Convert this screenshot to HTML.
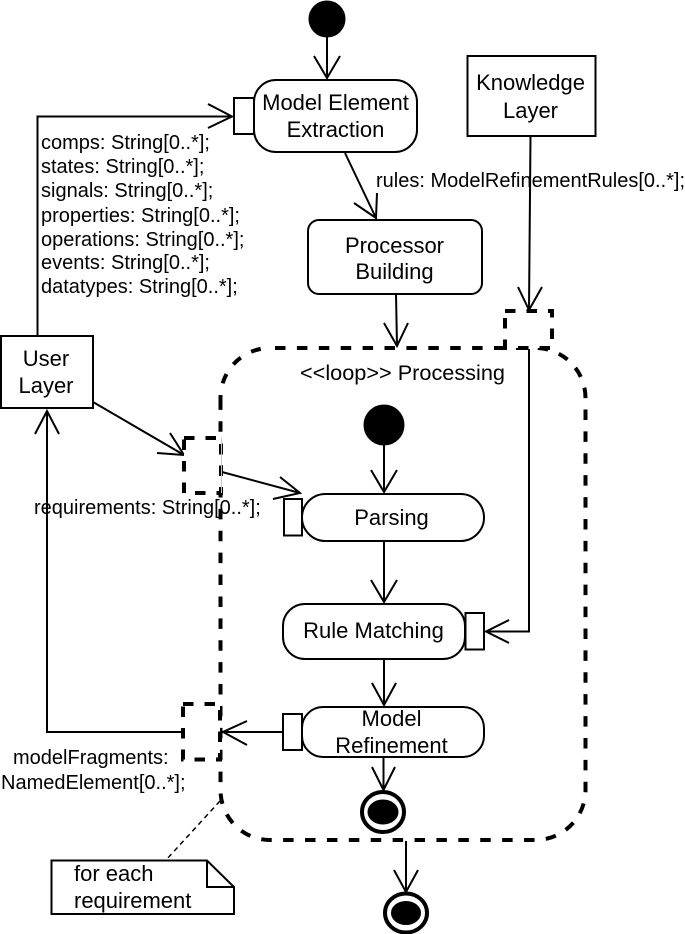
<!DOCTYPE html>
<html><head><meta charset="utf-8"><style>
html,body{margin:0;padding:0;background:#fff}
svg{display:block}
text{font-family:"Liberation Sans",sans-serif;fill:#000}
</style></head><body>
<svg width="685" height="934" viewBox="0 0 685 934" xmlns="http://www.w3.org/2000/svg">
<g fill="none" stroke="#000" stroke-width="2">
<circle cx="327" cy="19" r="17.5" fill="#000"/>
<path d="M327 36V78M314 56L327 78L340 56"/>
<rect x="254" y="80" width="163" height="72" rx="22" fill="#fff"/>
<rect x="234" y="98" width="20" height="36" fill="#fff"/>
<rect x="467.500" y="56" width="128" height="80" fill="#fff"/>
<path d="M345 153L376 218M354 203L376 218L377 193"/>
<rect x="308" y="220" width="174" height="74" rx="11" fill="#fff"/>
<path d="M396 294L397 346M384 323L397 346L408 323"/>
<path d="M530.500 136L529 309M518 287L529 310L542 287"/>
<rect x="1" y="336" width="92" height="72" fill="#fff"/>
<path d="M37.500 336V116.500H232M208 104L232 116.500L208 128"/>
<path d="M93 402L184 455M170 433L184 455L157 453"/>
<path d="M222 472L300 493M280 477L300 493L273 499"/>
<path d="M183 732H47V411M35 434L47 411L59 434"/>
<path d="M283 732H223M247 721L223 732L247 745"/>
<path d="M270 348H535.500A50 50 0 0 1 585.500 398V790A50 50 0 0 1 535.500 840H270A49.500 50 0 0 1 220.500 790V405" stroke-width="4" stroke-dasharray="10.500 11.400" stroke-dashoffset="16.900"/>
<path d="M220.500 405V398A49.500 50 0 0 1 270 348" stroke-width="4" stroke-dasharray="10 11.900"/>
<rect x="505" y="311" width="47" height="37" fill="#fff" stroke-width="4" stroke-dasharray="10.500 11"/>
<rect x="184" y="438" width="37" height="55" fill="#fff" stroke-width="4" stroke-dasharray="10.500 11"/>
<path d="M221.500 438V493" stroke="#c8c8c8" stroke-width="1"/>
<rect x="183" y="704" width="37" height="55.500" fill="#fff" stroke-width="4" stroke-dasharray="10.500 11"/>
<path d="M529 349V631.500H486M509 620L486 631.500L509 643"/>
<circle cx="384" cy="425" r="19.500" fill="#000"/>
<path d="M384 444V492M371 470L384 492L397 470"/>
<rect x="302" y="494" width="182" height="47" rx="23.500" fill="#fff"/>
<rect x="284" y="499" width="18" height="36.500" fill="#fff"/>
<path d="M384 541V602M371 580L384 602L397 580"/>
<rect x="283" y="604" width="182" height="55" rx="22" fill="#fff"/>
<rect x="465.500" y="613" width="18.500" height="36.500" fill="#fff"/>
<path d="M384 659V705M372 683L384 705L396 683"/>
<rect x="302" y="707" width="182" height="50" rx="21" fill="#fff"/>
<rect x="283" y="714" width="19" height="36" fill="#fff"/>
<path d="M383.500 757V790M372 767L383.500 790L395 767"/>
<ellipse cx="383" cy="812" rx="21" ry="20" stroke-width="4"/>
<ellipse cx="383" cy="812" rx="14.500" ry="11.500" fill="#000"/>
<path d="M406 841V892M394 870L406 892L418 870"/>
<ellipse cx="406" cy="913" rx="21" ry="19.500" stroke-width="4"/>
<ellipse cx="406" cy="913" rx="14" ry="11" fill="#000"/>
<path d="M220 801L166 860" stroke-width="1.500" stroke-dasharray="5 4"/>
<path d="M51.500 860.500H207L234 887V914H51.500Z" fill="#fff"/>
<path d="M207 860.500V887H234"/>
</g>
<g font-size="22" text-anchor="middle">
<text x="335.500" y="110">Model Element</text>
<text x="335.500" y="137">Extraction</text>
<text x="530.500" y="90">Knowledge</text>
<text x="530.500" y="118">Layer</text>
<text x="394.500" y="253">Processor</text>
<text x="394.500" y="279">Building</text>
<text x="46" y="366">User</text>
<text x="46" y="393">Layer</text>
<text x="391.500" y="525">Parsing</text>
<text x="373.500" y="638">Rule Matching</text>
<text x="391.500" y="726">Model</text>
<text x="391.500" y="753">Refinement</text>
<text x="74" y="881" text-anchor="start">for each</text>
<text x="74" y="908" text-anchor="start">requirement</text>
<text x="300" y="380" text-anchor="start" font-size="21.700">&lt;&lt;loop&gt;&gt; Processing</text>
</g>
<g font-size="20">
<text x="41" y="149">comps: String[0..*];</text>
<text x="41" y="173">states: String[0..*];</text>
<text x="41" y="197">signals: String[0..*];</text>
<text x="41" y="222">properties: String[0..*];</text>
<text x="41" y="246">operations: String[0..*];</text>
<text x="41" y="269">events: String[0..*];</text>
<text x="41" y="293">datatypes: String[0..*];</text>
<text x="376" y="187">rules: ModelRefinementRules[0..*];</text>
<text x="34" y="514">requirements: String[0..*];</text>
<text x="13" y="764">modelFragments:</text>
<text x="1" y="789">NamedElement[0..*];</text>
</g>
</svg>
</body></html>
